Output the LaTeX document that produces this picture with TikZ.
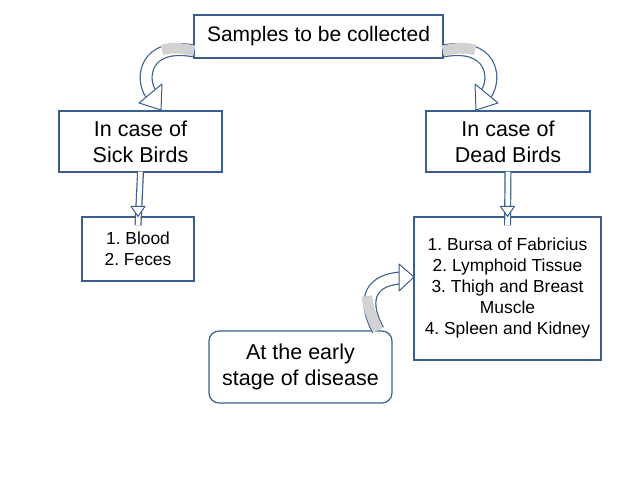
\documentclass[tikz,border=0pt]{standalone}
\usepackage{fontspec}
\setmainfont{Liberation Sans}
\definecolor{bc}{HTML}{3A5F8F}
\frenchspacing
\begin{document}
\begin{tikzpicture}[x=1pt,y=-1pt,
  box/.style={draw=bc,line width=1.2pt,align=center,inner sep=0pt},
  band/.style={draw=bc,line width=13pt},
  bandin/.style={draw=white,line width=10.6pt},
  head/.style={draw=bc,fill=white,line width=1pt,line join=round}]
\useasboundingbox (0,0) rectangle (638,478);
\node[box,minimum width=249,minimum height=43,font=\fontsize{21}{24}\selectfont] (top) at (318.5,36.5) {Samples to be collected};
\node[box,minimum width=163,minimum height=61,font=\fontsize{21.5}{26}\selectfont] (sick) at (140.5,141.5) {In case of\\Sick Birds};
\node[box,minimum width=164,minimum height=61,font=\fontsize{21.5}{26}\selectfont] (dead) at (508,141.5) {In case of\\Dead Birds};
\node[box,minimum width=112,minimum height=64,font=\fontsize{17.4}{21}\selectfont] (blood) at (138,249) {1. Blood\\2. Feces};
\node[box,minimum width=187,minimum height=143,font=\fontsize{17.4}{21}\selectfont] (bursa) at (507.5,288.5) {1. Bursa of Fabricius\\2. Lymphoid Tissue\\3. Thigh and Breast\\Muscle\\4. Spleen and Kidney};
\node[box,rounded corners=10pt,minimum width=183,minimum height=72,font=\fontsize{21.5}{26}\selectfont] (early) at (300.5,367) {At the early\\stage of disease};
% straight arrows
\foreach \a/\b in {sick/blood,dead/bursa}{
  \coordinate (s) at (\a.south); \coordinate (e) at (\b.north);
  \draw[draw=bc,line width=7pt] (s) -- ([yshift=-9]e);
  \draw[draw=white,line width=4.6pt] ([yshift=1]s) -- ([yshift=-9]e);
  \draw[head] ([shift={(-7,-10)}]e) -- ([shift={(7,-10)}]e) -- (e) -- cycle;
}
% left curved
\coordinate (l0) at (194,51); \coordinate (l1) at (151,94);
\draw[band] (l0) .. controls (145,42) and (140,78) .. (l1);
\draw[bandin] (l0) .. controls (145,42) and (140,78) .. (l1);
\draw[draw=gray!35,line width=10.6pt] (l0) .. controls (182,48) and (172,47) .. (162,50);
\draw[head] (162,84) -- (139,103) -- (161,110) -- cycle;
% right curved
\coordinate (r0) at (443,51); \coordinate (r1) at (486,94);
\draw[band] (r0) .. controls (492,42) and (497,78) .. (r1);
\draw[bandin] (r0) .. controls (492,42) and (497,78) .. (r1);
\draw[draw=gray!35,line width=10.6pt] (r0) .. controls (455,48) and (465,47) .. (475,50);
\draw[head] (475,84) -- (498,103) -- (476,110) -- cycle;
% bottom curved
\coordinate (b0) at (378,330); \coordinate (b1) at (400,278);
\draw[band] (b0) .. controls (360,296) and (374,280) .. (b1);
\draw[bandin] (b0) .. controls (360,296) and (374,280) .. (b1);
\draw[draw=gray!35,line width=10.6pt] (b0) .. controls (372,318) and (368,308) .. (367,296);
\draw[head] (399,264) -- (414,277) -- (399,291) -- cycle;
\end{tikzpicture}
\end{document}
